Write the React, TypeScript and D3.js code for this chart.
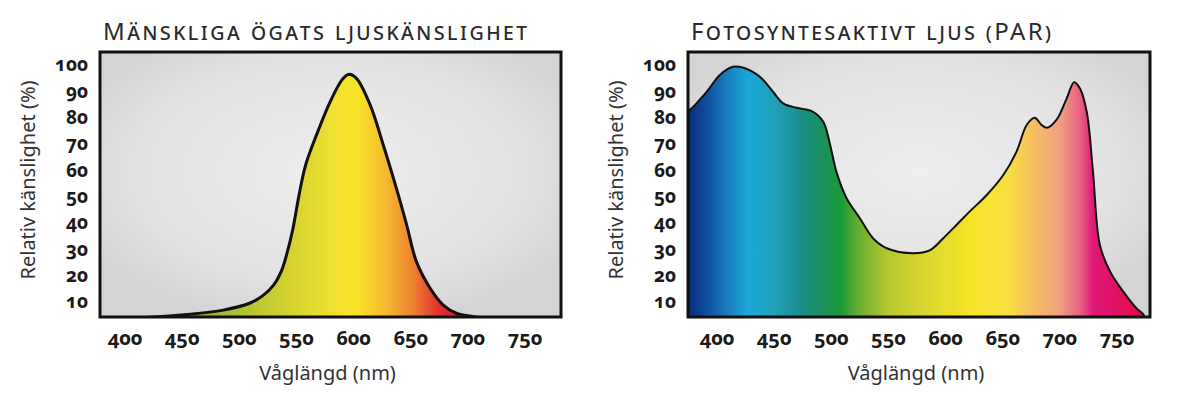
import React, { useEffect, useRef } from "react"
import * as d3 from "d3"

// wavelength (nm) / relative sensitivity (%)
const eyeNm = [378, 413, 457, 486, 509, 520, 530, 537, 542, 547, 552, 558, 568, 579.5, 590, 595.5, 602.5, 614.5, 626, 637.5, 646.5, 655, 667, 678.5, 690, 705, 734, 782]
const eyeVal = [4, 4.1, 5.4, 7.0, 9.6, 12.3, 16.5, 22, 29, 38, 50, 62, 74, 86.1, 94.5, 96.5, 95.0, 84.9, 69.7, 53.2, 39.3, 25.4, 15.3, 8.9, 5.8, 4.5, 4.0, 4]

const parNm = [375, 376, 391, 402.5, 414, 423, 437.5, 449, 458, 469.5, 484, 493, 499, 504.5, 513.5, 525, 536.5, 548.5, 571.5, 586.5, 598, 609.5, 621, 636, 650.5, 662, 671, 678, 684, 688.5, 697, 706, 712.5, 717.5, 723.5, 729, 735, 744, 755.5, 767, 773, 775]
const parVal = [83, 83.0, 89.9, 96.3, 99.4, 99.0, 95.6, 89.9, 85.5, 83.8, 82.3, 78.5, 69.7, 59.5, 49.4, 41.9, 34.3, 30.5, 28.6, 29.8, 34.3, 39.3, 44.4, 50.7, 58.3, 67.1, 77.3, 80.0, 77.3, 76.2, 79.2, 87.4, 93.5, 91.2, 82.3, 59.5, 31.7, 21.6, 14.0, 7.7, 5.4, 4]

const eyeStopsNm = [480, 495, 538, 582, 603, 629, 652, 675, 690]
const eyeStopsCol = ["#9cba2e", "#a8c030", "#d0d030", "#f0e030", "#f8e428", "#f5b830", "#ee8030", "#e03030", "#dd1830"]

const parStopsNm = [376, 392, 410, 427, 451, 471, 491, 508, 526, 550, 578, 621, 654, 676, 700, 718, 729, 753, 772]
const parStopsCol = ["#0a2e80", "#1050a0", "#1a80c0", "#1aa8d8", "#20a0b8", "#1a9090", "#1a9060", "#1a9a38", "#70b030", "#b8c830", "#d8d430", "#f5e428", "#f8e040", "#f5c060", "#f0a080", "#e86080", "#e01878", "#e01060", "#e01040"]

const xTicks = [400, 450, 500, 550, 600, 650, 700, 750]
const yTicks = [10, 20, 30, 40, 50, 60, 70, 80, 90, 100]

const titles = ["Mänskliga ögats ljuskänslighet", "Fotosyntesaktivt ljus  (PAR)"]
const titleWidths = [424, 360]
const yLabel = "Relativ känslighet (%)"
const xLabel = "Våglängd (nm)"

const W = 1180
const H = 398

export default function App() {
  const ref = useRef<SVGSVGElement>(null)

  useEffect(() => {
    const svg = d3.select(ref.current)
    svg.selectAll("*").remove()
    const defs = svg.append("defs")

    const bg = defs.append("radialGradient").attr("id", "bg").attr("cx", "50%").attr("cy", "45%").attr("r", "60%")
    bg.append("stop").attr("offset", "0%").attr("stop-color", "#eeeeee")
    bg.append("stop").attr("offset", "70%").attr("stop-color", "#e2e2e2")
    bg.append("stop").attr("offset", "100%").attr("stop-color", "#d4d4d4")

    const panels = [
      { left: 100, right: 561, x400: 125, nm: eyeNm, val: eyeVal, sNm: eyeStopsNm, sCol: eyeStopsCol },
      { left: 688, right: 1150, x400: 717, nm: parNm, val: parVal, sNm: parStopsNm, sCol: parStopsCol },
    ]
    const top = 52
    const bottom = 317
    const numFont = "'Open Sans', 'Noto Sans', sans-serif"

    const y = d3.scaleLinear().domain([4, 105]).range([318, 52])

    panels.forEach((p, i) => {
      const x = d3.scaleLinear().domain([400, 750]).range([p.x400, p.x400 + 400])
      const g = svg.append("g")

      const clipId = "clip" + i
      defs.append("clipPath").attr("id", clipId)
        .append("rect").attr("x", p.left).attr("y", top).attr("width", p.right - p.left).attr("height", bottom - top)

      const grad = defs.append("linearGradient").attr("id", "spec" + i)
        .attr("gradientUnits", "userSpaceOnUse")
        .attr("x1", x(p.sNm[0])).attr("x2", x(p.sNm[p.sNm.length - 1])).attr("y1", 0).attr("y2", 0)
      const span = p.sNm[p.sNm.length - 1] - p.sNm[0]
      p.sNm.forEach((n, k) => {
        grad.append("stop").attr("offset", (n - p.sNm[0]) / span).attr("stop-color", p.sCol[k])
      })

      g.append("rect").attr("x", p.left).attr("y", top).attr("width", p.right - p.left).attr("height", bottom - top)
        .attr("fill", "url(#bg)")

      const pts = p.nm.map((n, k) => [n, p.val[k]] as [number, number])
      const area = d3.area<[number, number]>()
        .x(d => x(d[0])).y0(y(0)).y1(d => y(d[1]))
        .curve(d3.curveCatmullRom.alpha(0.5))
      const line = d3.line<[number, number]>()
        .x(d => x(d[0])).y(d => y(d[1]))
        .curve(d3.curveCatmullRom.alpha(0.5))

      const inner = g.append("g").attr("clip-path", `url(#${clipId})`)
      inner.append("path").datum(pts).attr("d", area).attr("fill", `url(#spec${i})`)
      inner.append("path").datum(pts).attr("d", line).attr("fill", "none")
        .attr("stroke", "#111").attr("stroke-width", i === 0 ? 3 : 2)

      g.append("rect").attr("x", p.left).attr("y", top).attr("width", p.right - p.left).attr("height", bottom - top)
        .attr("fill", "none").attr("stroke", "#111").attr("stroke-width", 3)

      // titles
      g.append("text").attr("x", p.left + 3).attr("y", 40)
        .attr("font-family", "'Noto Sans', sans-serif").attr("font-size", 24)
        .style("font-variant-caps", "small-caps").attr("fill", "#2a2a2a")
        .attr("textLength", titleWidths[i]).attr("lengthAdjust", "spacing")
        .text(titles[i])

      // y ticks
      g.selectAll(".yt").data(yTicks).enter().append("text")
        .attr("x", p.left - 12).attr("y", d => y(d) + 6)
        .attr("text-anchor", "end")
        .attr("font-family", numFont).attr("font-size", 19).attr("font-weight", 700)
        .style("font-variant-numeric", "oldstyle-nums").attr("fill", "#1a1a1a")
        .text(d => d)

      // x ticks
      g.selectAll(".xt").data(xTicks).enter().append("text")
        .attr("x", d => x(d)).attr("y", 345)
        .attr("text-anchor", "middle")
        .attr("font-family", numFont).attr("font-size", 20).attr("font-weight", 700)
        .style("font-variant-numeric", "oldstyle-nums").attr("fill", "#1a1a1a")
        .text(d => d)

      g.append("text").attr("x", (p.left + p.right) / 2 - 3).attr("y", 380)
        .attr("text-anchor", "middle")
        .attr("font-family", "'Noto Sans', sans-serif").attr("font-size", 20).attr("fill", "#333")
        .text(xLabel)

      const yx = p.left - 65
      g.append("text").attr("transform", `translate(${yx},180) rotate(-90)`)
        .attr("text-anchor", "middle")
        .attr("font-family", "'Noto Sans', sans-serif").attr("font-size", 20).attr("fill", "#333")
        .text(yLabel)
    })
  }, [])

  return (
    <svg ref={ref} width={W} height={H}
      style={{ position: "absolute", left: 0, top: 0, background: "#fff" }} />
  )
}
